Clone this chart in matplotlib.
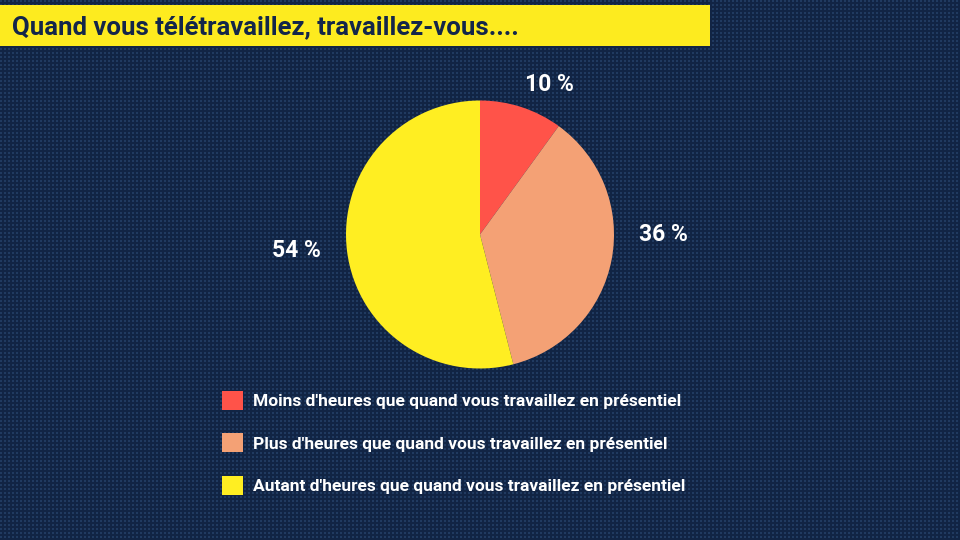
import numpy as np
import matplotlib.pyplot as plt
from matplotlib.patches import Rectangle
from matplotlib import font_manager

# donnees du graphique
valeurs = [10, 36, 54]
etiquettes = ['10 %', '36 %', '54 %']
legende = ["Moins d'heures que quand vous travaillez en présentiel",
           "Plus d'heures que quand vous travaillez en présentiel",
           "Autant d'heures que quand vous travaillez en présentiel"]
couleurs = ['#FF5349', '#F4A175', '#FFEE22']
titre = 'Quand vous télétravaillez, travaillez-vous....'

# police etroite si dispo
noms = {f.name for f in font_manager.fontManager.ttflist}
police = 'Liberation Sans Narrow' if 'Liberation Sans Narrow' in noms else 'Roboto'
plt.rcParams['font.family'] = [police, 'DejaVu Sans']

fig = plt.figure(figsize=(9.6, 5.4), dpi=100)
fig.patch.set_facecolor('#122546')

# texture de fond en petits points
motif = np.zeros((540, 960, 3))
motif[:, :] = np.array([17, 36, 68]) / 255
yy, xx = np.mgrid[0:540, 0:960]
points = ((yy % 4) < 2) & ((xx % 4) < 2)
motif[points] = np.array([32, 58, 96]) / 255
fig.figimage(motif, 0, 0, zorder=-5)

# bandeau du titre
fig.patches.append(Rectangle((0, 1 - 46 / 540), 710 / 960, 41 / 540,
                             transform=fig.transFigure, facecolor='#FDEB1F',
                             edgecolor='none', zorder=1))
fig.text(12 / 960, 1 - 27 / 540, titre, color='#13264A', fontsize=18.5,
         fontweight='bold', va='center', ha='left', zorder=2)

# camembert
ax = fig.add_axes([346 / 960, 1 - 368.5 / 540, 268 / 960, 268 / 540])
ax.patch.set_alpha(0)
parts, textes = ax.pie(valeurs, colors=couleurs, startangle=90, counterclock=False,
                       labels=etiquettes, labeldistance=1.3,
                       wedgeprops=dict(linewidth=0))
ax.set_xlim(-1, 1)
ax.set_ylim(-1, 1)
ax.set_aspect('equal')

# positions des etiquettes (en rayons)
pos_etiq = [(0.52, 1.116), (1.366, 0.0), (-1.373, -0.116)]
for t, p in zip(textes, pos_etiq):
    t.set_position(p)
    t.set_ha('center')
    t.set_va('center')
    t.set_color('white')
    t.set_fontsize(16.5)
    t.set_fontweight('bold')

# legende
leg = fig.legend(parts, legende, loc='upper left',
                 bbox_to_anchor=(222 / 960, 1 - 391 / 540), frameon=False,
                 borderpad=0, borderaxespad=0, labelcolor='white',
                 handlelength=1.2, handleheight=1.3, handletextpad=0.6,
                 labelspacing=1.35, prop=dict(weight='bold', size=12.5))

fig.savefig('out.png', dpi=100, facecolor=fig.get_facecolor())
